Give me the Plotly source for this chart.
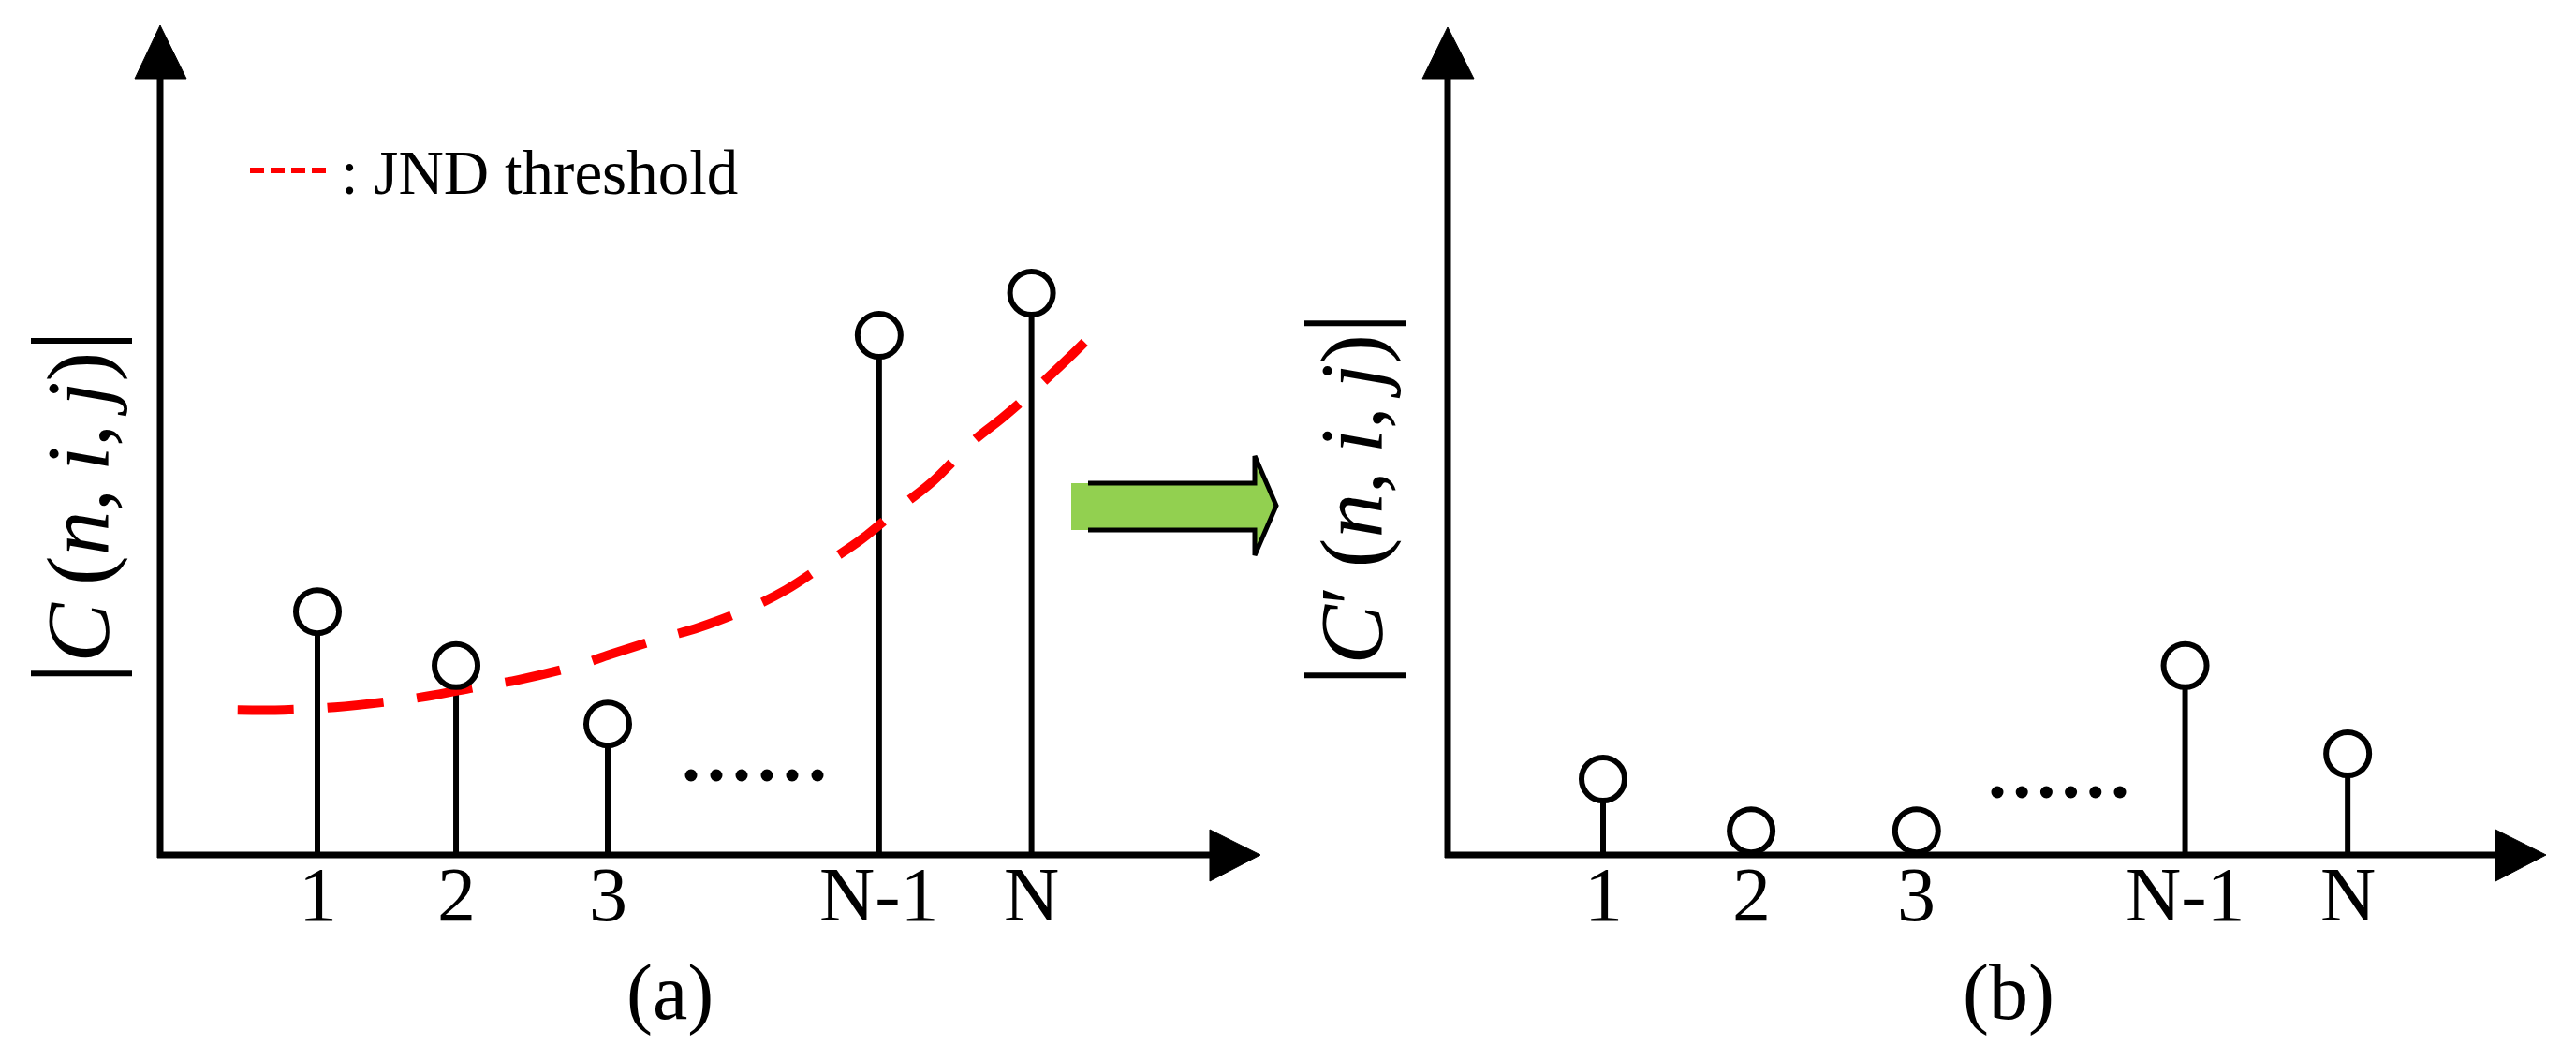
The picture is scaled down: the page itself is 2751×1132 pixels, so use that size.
import plotly.graph_objects as go

# ---------------- data ----------------
tick_labels = ["1", "2", "3", "N-1", "N"]

# panel (a): coefficient magnitudes |C(n,i,j)|
pos_a = [1.0, 1.955, 3.0, 4.87, 5.92]
vals_a = [4.33, 3.37, 2.33, 9.25, 10.0]

# panel (b): coefficient magnitudes after JND suppression |C'(n,i,j)|
pos_b = [1.0, 2.02, 3.16, 5.01, 6.13]
vals_b = [1.35, 0.43, 0.43, 3.37, 1.8]

# JND threshold curve in panel (a)
jnd_x = [0.45, 0.77, 1.12, 1.49, 1.75, 2.12, 2.39, 2.79, 3.02, 3.39, 3.63,
         4.00, 4.23, 4.54, 4.75, 5.03, 5.24, 5.52, 5.72, 5.95, 6.21, 6.36]
jnd_y = [2.58, 2.58, 2.63, 2.73, 2.82, 3.00, 3.12, 3.37, 3.57, 3.87, 4.05,
         4.42, 4.72, 5.25, 5.62, 6.22, 6.65, 7.37, 7.78, 8.30, 8.93, 9.32]

# ---------------- layout geometry ----------------
W, H = 2751, 1132
PXX, PXY = 155.0, 60.0        # pixels per x unit / y unit
X0A, X0B, Y0 = 184.0, 1557.0, 913.0   # pixel of x=0 (a), x=0 (b), y=0

FONT = "Liberation Serif, Times New Roman, serif"


def P(px, py):
    return px / W, 1 - py / H


def path(points, close=True):
    s = ""
    for i, (px, py) in enumerate(points):
        x, y = P(px, py)
        s += ("M" if i == 0 else "L") + f"{x:.6f},{y:.6f} "
    return s + ("Z" if close else "")


def stems(xs, ys):
    sx, sy = [], []
    for x, y in zip(xs, ys):
        sx += [x, x, None]
        sy += [0, y, None]
    return sx, sy


fig = go.Figure()

sxa, sya = stems(pos_a, vals_a)
fig.add_trace(go.Scatter(x=sxa, y=sya, mode="lines", xaxis="x", yaxis="y",
                         line=dict(color="black", width=6), hoverinfo="skip"))
fig.add_trace(go.Scatter(x=jnd_x, y=jnd_y, mode="lines", xaxis="x", yaxis="y",
                         line=dict(color="#FF0000", width=10, dash="60px,36px",
                                   shape="spline", smoothing=1.0),
                         hoverinfo="skip"))
fig.add_trace(go.Scatter(x=pos_a, y=vals_a, mode="markers", xaxis="x", yaxis="y",
                         marker=dict(symbol="circle", size=46, color="white",
                                     line=dict(color="black", width=6))))

sxb, syb = stems(pos_b, vals_b)
fig.add_trace(go.Scatter(x=sxb, y=syb, mode="lines", xaxis="x2", yaxis="y",
                         line=dict(color="black", width=6), hoverinfo="skip"))
fig.add_trace(go.Scatter(x=pos_b, y=vals_b, mode="markers", xaxis="x2", yaxis="y",
                         marker=dict(symbol="circle", size=46, color="white",
                                     line=dict(color="black", width=6))))

shapes = []
annotations = []


def line(p1, p2, width=7, color="black", dash=None):
    x1, y1 = P(*p1)
    x2, y2 = P(*p2)
    d = dict(type="line", xref="paper", yref="paper", x0=x1, y0=y1, x1=x2, y1=y2,
             line=dict(color=color, width=width))
    if dash:
        d["line"]["dash"] = dash
    shapes.append(d)


def tri(points, color="black"):
    shapes.append(dict(type="path", xref="paper", yref="paper", path=path(points),
                       fillcolor=color, line=dict(color=color, width=1)))


# axes with arrows, panel (a)
line((171, 916), (171, 80))
tri([(144, 84), (199, 84), (171, 27)])
line((168, 913), (1295, 913))
tri([(1292, 886), (1292, 941), (1346, 913)])
# axes with arrows, panel (b)
line((1546, 916), (1546, 80))
tri([(1519, 84), (1574, 84), (1546, 29)])
line((1543, 913), (2668, 913))
tri([(2665, 886), (2665, 941), (2719, 913)])

# ellipsis dots
for i in range(6):
    for cx, cy, step in [(738, 828, 27.0), (2133, 846, 26.2)]:
        x, y = P(cx + i * step, cy)
        rx, ry = 6.5 / W, 6.5 / H
        shapes.append(dict(type="circle", xref="paper", yref="paper",
                           x0=x - rx, x1=x + rx, y0=y - ry, y1=y + ry,
                           fillcolor="black", line=dict(color="black", width=0)))

# green arrow between panels
shapes.append(dict(type="path", xref="paper", yref="paper",
                   path=path([(1144, 516), (1340, 516), (1340, 487), (1363, 540),
                              (1340, 593), (1340, 566), (1144, 566)]),
                   fillcolor="#92D050", line=dict(width=0)))
shapes.append(dict(type="path", xref="paper", yref="paper",
                   path=path([(1162, 516), (1340, 516), (1340, 487), (1363, 540),
                              (1340, 593), (1340, 566), (1162, 566)], close=False),
                   fillcolor="rgba(0,0,0,0)", line=dict(color="black", width=5)))

# legend sample
line((267, 182), (348, 182), width=6, color="#FF0000", dash="15px,7px")
lx, ly = P(362, 184)
annotations.append(dict(x=lx, y=ly, xref="paper", yref="paper", xanchor="left",
                        yanchor="middle", showarrow=False, text=": JND threshold",
                        font=dict(family=FONT, size=67, color="black")))

# tick labels under the stems
ty = 1 - 955 / H
for xr, poss in [("x", pos_a), ("x2", pos_b)]:
    for lab, p in zip(tick_labels, poss):
        annotations.append(dict(x=p, y=ty, xref=xr, yref="paper", showarrow=False,
                                xanchor="center", yanchor="middle", text=lab,
                                font=dict(family=FONT, size=82, color="black")))

# panel captions
for cap, cx in [("(a)", 715), ("(b)", 2145)]:
    x, y = P(cx, 1060)
    annotations.append(dict(x=x, y=y, xref="paper", yref="paper", showarrow=False,
                            xanchor="center", yanchor="middle", text=cap,
                            font=dict(family=FONT, size=84, color="black")))

# rotated y labels
bar = '<span style="font-size:118px">|</span>'
ts = "\u2009"
lab_a = bar + "<i>C</i>" + ts + "(" + "<i>n</i>," + ts + "<i>i</i>," + ts + "<i>j</i>)" + bar
lab_b = bar + "<i>C</i>\u2032" + ts + "(" + "<i>n</i>," + ts + "<i>i</i>," + ts + "<i>j</i>)" + bar
for txt, cx, cy in [(lab_a, 76, 542), (lab_b, 1436, 533)]:
    x, y = P(cx, cy)
    annotations.append(dict(x=x, y=y, xref="paper", yref="paper", showarrow=False,
                            xanchor="center", yanchor="middle", textangle=-90,
                            text=txt, font=dict(family=FONT, size=95, color="black")))

fig.update_layout(
    width=W, height=H,
    margin=dict(l=0, r=0, t=0, b=0, pad=0),
    paper_bgcolor="white", plot_bgcolor="white",
    showlegend=False,
    xaxis=dict(domain=[0, 1], range=[(0 - X0A) / PXX, (W - X0A) / PXX], visible=False,
               fixedrange=True),
    xaxis2=dict(domain=[0, 1], range=[(0 - X0B) / PXX, (W - X0B) / PXX], visible=False,
                overlaying="x", anchor="y", fixedrange=True),
    yaxis=dict(domain=[0, 1], range=[(Y0 - H) / PXY, Y0 / PXY], visible=False,
               fixedrange=True),
    shapes=shapes,
    annotations=annotations,
)

fig.write_html("out.html", config={"displayModeBar": False},
               post_script="document.body.style.margin='0';document.body.style.overflow='hidden';")
